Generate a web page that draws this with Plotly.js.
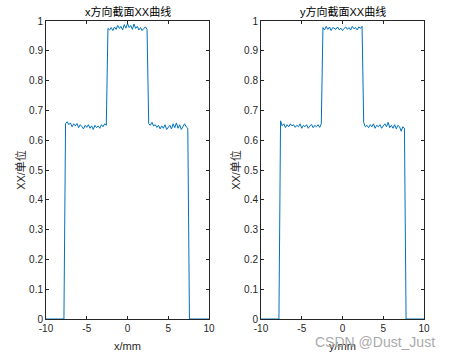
<!DOCTYPE html>
<html>
<head>
<meta charset="utf-8">
<script src="https://cdn.plot.ly/plotly-3.0.1.min.js"></script>
<style>html,body{margin:0;padding:0;background:#fff;}#chart{width:450px;height:356px;}</style>
</head>
<body>
<div id="chart"></div>
<script>
// sample positions (mm)
var posMM = [-10,-9.8,-9.6,-9.4,-9.2,-9,-8.8,-8.6,-8.4,-8.2,-8,-7.8,
  -7.6,-7.4,-7.2,-7,-6.8,-6.6,-6.4,-6.2,-6,-5.8,-5.6,-5.4,-5.2,-5,-4.8,-4.6,-4.4,-4.2,-4,-3.8,-3.6,-3.4,-3.2,-3,-2.8,-2.6,
  -2.4,-2.2,-2,-1.8,-1.6,-1.4,-1.2,-1,-0.8,-0.6,-0.4,-0.2,0,0.2,0.4,0.6,0.8,1,1.2,1.4,1.6,1.8,2,2.2,2.4,
  2.6,2.8,3,3.2,3.4,3.6,3.8,4,4.2,4.4,4.6,4.8,5,5.2,5.4,5.6,5.8,6,6.2,6.4,6.6,6.8,7,7.2,7.4,
  7.6,7.8,8,8.2,8.4,8.6,8.8,9,9.2,9.4,9.6,9.8,10];

// x-direction section profile
var xProfile = [0,0,0,0,0,0,0,0,0,0,0,0,
  0.655,0.662,0.652,0.658,0.645,0.655,0.648,0.656,0.642,0.652,0.646,0.638,0.650,0.643,0.652,0.640,0.648,0.636,0.650,0.642,0.648,0.640,0.652,0.645,0.655,0.650,
  0.975,0.970,0.978,0.968,0.980,0.972,0.985,0.975,0.982,0.970,0.988,0.976,0.992,0.978,0.985,0.972,0.990,0.975,0.982,0.970,0.978,0.968,0.975,0.980,0.972,
  0.655,0.650,0.660,0.648,0.652,0.643,0.650,0.638,0.648,0.640,0.652,0.636,0.645,0.650,0.638,0.655,0.642,0.658,0.640,0.652,0.636,0.648,0.655,0.645,0.640,
  0,0,0,0,0,0,0,0,0,0,0,0,0];

// y-direction section profile
var yProfile = [0,0,0,0,0,0,0,0,0,0,0,0,
  0.665,0.648,0.655,0.642,0.652,0.645,0.655,0.648,0.652,0.643,0.650,0.645,0.655,0.640,0.650,0.645,0.652,0.640,0.648,0.653,0.642,0.650,0.645,0.652,0.643,0.655,
  0.978,0.970,0.982,0.972,0.980,0.968,0.978,0.975,0.972,0.980,0.970,0.976,0.968,0.975,0.980,0.972,0.978,0.970,0.982,0.974,0.978,0.970,0.980,0.975,0.982,
  0.660,0.645,0.650,0.642,0.652,0.645,0.655,0.640,0.650,0.645,0.652,0.640,0.648,0.655,0.645,0.660,0.642,0.650,0.640,0.652,0.638,0.650,0.645,0.630,0.645,0.640,
  0,0,0,0,0,0,0,0,0,0,0,0];

var xTickVals = [-10,-5,0,5,10];
var xTickText = ['-10','-5','0','5','10'];
var yTickVals = [0,0.1,0.2,0.3,0.4,0.5,0.6,0.7,0.8,0.9,1];
var yTickText = ['0','0.1','0.2','0.3','0.4','0.5','0.6','0.7','0.8','0.9','1'];
var titles = ['x方向截面XX曲线','y方向截面XX曲线'];
var xTitles = ['x/mm','y/mm'];
var yTitle = 'XX/单位';

var FONT = 'Liberation Sans, Arial, Noto Sans CJK SC, sans-serif';
var AX = '#262626';
var lineColor = '#0072BD';

var traces = [
  {x: posMM, y: xProfile, type: 'scatter', mode: 'lines', line: {color: lineColor, width: 1}, xaxis: 'x', yaxis: 'y', hoverinfo: 'none'},
  {x: posMM, y: yProfile, type: 'scatter', mode: 'lines', line: {color: lineColor, width: 1}, xaxis: 'x2', yaxis: 'y2', hoverinfo: 'none'}
];

function xa(domain, title, anchor) {
  return {domain: domain, anchor: anchor, range: [-10, 10], tickvals: xTickVals, ticktext: xTickText, ticks: 'inside', ticklen: 3,
    tickcolor: AX, linecolor: AX, linewidth: 1, mirror: 'ticks', showline: true, showgrid: false, zeroline: false,
    tickfont: {family: FONT, size: 10, color: AX},
    title: {text: title, font: {family: FONT, size: 11, color: AX}, standoff: 9}};
}
function ya(domain, anchor) {
  return {domain: domain, anchor: anchor, range: [0, 1], tickvals: yTickVals, ticktext: yTickText, ticks: 'inside', ticklen: 3,
    tickcolor: AX, linecolor: AX, linewidth: 1, mirror: 'ticks', showline: true, showgrid: false, zeroline: false,
    tickfont: {family: FONT, size: 10, color: AX},
    title: {text: yTitle, font: {family: FONT, size: 11, color: AX}, standoff: 1}};
}

var yDom = [1 - 319/356, 1 - 21/356];
var layout = {
  width: 450, height: 356,
  margin: {l: 0, r: 0, t: 0, b: 0},
  paper_bgcolor: '#fff', plot_bgcolor: '#fff',
  showlegend: false,
  xaxis: xa([46/450, 209/450], xTitles[0], 'y'),
  yaxis: ya(yDom, 'x'),
  xaxis2: xa([261/450, 424/450], xTitles[1], 'y2'),
  yaxis2: ya(yDom, 'x2'),
  annotations: [
    {text: titles[0], xref: 'paper', yref: 'paper', x: 127.5/450, y: 1 - 12/356, xanchor: 'center', yanchor: 'middle', showarrow: false, font: {family: FONT, size: 11, color: '#000'}},
    {text: titles[1], xref: 'paper', yref: 'paper', x: 342.5/450, y: 1 - 12/356, xanchor: 'center', yanchor: 'middle', showarrow: false, font: {family: FONT, size: 11, color: '#000'}},
    {text: 'CSDN @Dust_Just', xref: 'paper', yref: 'paper', x: 436/450, y: 1 - 342/356, xanchor: 'right', yanchor: 'middle', showarrow: false, borderpad: 0, font: {family: FONT, size: 14, color: '#aaaaaa'}}
  ]
};

Plotly.newPlot('chart', traces, layout, {staticPlot: true, displayModeBar: false});
</script>
</body>
</html>
